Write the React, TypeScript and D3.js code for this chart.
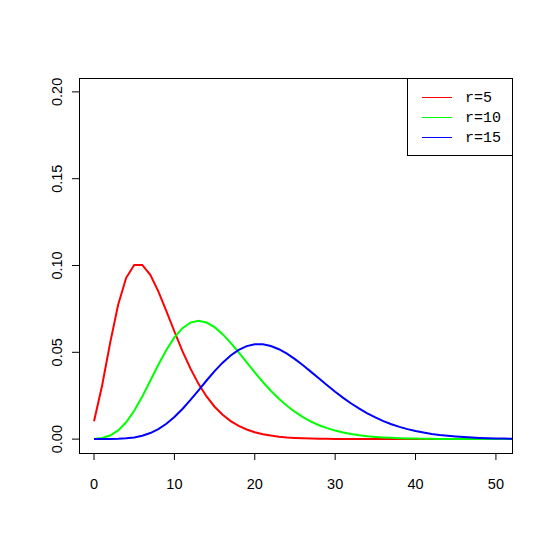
import React, { useEffect, useRef } from 'react';
import * as d3 from 'd3';

// probabilities, x = 0, 1, 2, ...
const r5: number[] = [
  0.01024, 0.03072, 0.05530, 0.07741, 0.09290, 0.10033, 0.10033, 0.09460, 0.08514, 0.07379,
  0.06198, 0.05071, 0.04057, 0.03183, 0.02455, 0.01866, 0.01400, 0.01037, 0.00761, 0.00553,
  0.00398, 0.00284, 0.00202, 0.00142, 0.00099, 0.00069, 0.00048, 0.00033, 0.00023, 0.00016,
  0.00011, 0.00007, 0.00005, 0.00003, 0.00002, 0.00001, 0.00001, 0.00001, 0, 0,
  0, 0, 0, 0, 0, 0, 0, 0, 0, 0,
  0, 0, 0, 0, 0, 0,
];

const r10: number[] = [
  0.00010, 0.00063, 0.00208, 0.00498, 0.00972, 0.01632, 0.02449, 0.03358, 0.04282, 0.05138,
  0.05857, 0.06390, 0.06709, 0.06812, 0.06715, 0.06447, 0.06044, 0.05546, 0.04991, 0.04413,
  0.03840, 0.03291, 0.02783, 0.02323, 0.01916, 0.01564, 0.01263, 0.01011, 0.00801, 0.00630,
  0.00491, 0.00380, 0.00292, 0.00223, 0.00169, 0.00128, 0.00096, 0.00072, 0.00053, 0.00039,
  0.00029, 0.00021, 0.00015, 0.00011, 0.00008, 0.00006, 0.00004, 0.00003, 0.00002, 0.00002,
  0.00001, 0.00001, 0.00001, 0, 0, 0,
];

const r15: number[] = [
  0.00000, 0.00001, 0.00005, 0.00016, 0.00043, 0.00097, 0.00194, 0.00350, 0.00577, 0.00884,
  0.01273, 0.01736, 0.02257, 0.02813, 0.03376, 0.03916, 0.04405, 0.04820, 0.05141, 0.05357,
  0.05465, 0.05465, 0.05365, 0.05179, 0.04920, 0.04605, 0.04251, 0.03873, 0.03486, 0.03101,
  0.02729, 0.02377, 0.02050, 0.01752, 0.01484, 0.01247, 0.01039, 0.00859, 0.00705, 0.00575,
  0.00466, 0.00375, 0.00300, 0.00239, 0.00189, 0.00148, 0.00116, 0.00090, 0.00070, 0.00054,
  0.00042, 0.00032, 0.00024, 0.00018, 0.00014, 0.00010,
];

const seriesNames: string[] = ['r=5', 'r=10', 'r=15'];
const seriesColors: string[] = ['#ff0000', '#00ff00', '#0000ff'];
const xTicks: number[] = [0, 10, 20, 30, 40, 50];
const yTicks: number[] = [0, 0.05, 0.1, 0.15, 0.2];

const W = 553;
const H = 552;
const plot = { left: 79, right: 512, top: 78, bottom: 453 };

const App: React.FC = () => {
  const svgRef = useRef<SVGSVGElement>(null);

  useEffect(() => {
    if (!svgRef.current) return;
    d3.select(svgRef.current).selectAll('*').remove();

    const svg = d3.select(svgRef.current).attr('width', W).attr('height', H);

    const x = d3.scaleLinear().domain([-1.87, 52]).range([plot.left, plot.right]);
    const y = d3.scaleLinear().domain([-0.008, 0.208]).range([plot.bottom, plot.top]);

    svg.append('defs').append('clipPath').attr('id', 'plotclip')
      .append('rect')
      .attr('x', plot.left).attr('y', plot.top)
      .attr('width', plot.right - plot.left).attr('height', plot.bottom - plot.top);

    const line = d3.line<number>()
      .x((_, i) => x(i))
      .y((d) => y(d));

    const g = svg.append('g').attr('clip-path', 'url(#plotclip)');
    [r5, r10, r15].forEach((s, i) => {
      g.append('path')
        .datum(s)
        .attr('d', line)
        .attr('fill', 'none')
        .attr('stroke', seriesColors[i])
        .attr('stroke-width', 2);
    });

    // plot frame
    svg.append('rect')
      .attr('x', plot.left + 0.5).attr('y', plot.top + 0.5)
      .attr('width', plot.right - plot.left).attr('height', plot.bottom - plot.top)
      .attr('fill', 'none').attr('stroke', '#000');

    const font = '"Liberation Sans", Arial, sans-serif';

    // x axis
    const xa = svg.append('g');
    xTicks.forEach((t) => {
      xa.append('line')
        .attr('x1', x(t)).attr('x2', x(t))
        .attr('y1', plot.bottom).attr('y2', plot.bottom + 7)
        .attr('stroke', '#000');
      xa.append('text')
        .attr('x', x(t)).attr('y', 488.5)
        .attr('text-anchor', 'middle')
        .attr('font-family', font).attr('font-size', 14.5)
        .text(String(t));
    });

    // y axis
    const ya = svg.append('g');
    yTicks.forEach((t) => {
      ya.append('line')
        .attr('x1', plot.left - 7).attr('x2', plot.left)
        .attr('y1', y(t)).attr('y2', y(t))
        .attr('stroke', '#000');
      ya.append('text')
        .attr('transform', `translate(${plot.left - 17.5},${y(t)}) rotate(-90)`)
        .attr('text-anchor', 'middle')
        .attr('font-family', font).attr('font-size', 14.5)
        .text(t.toFixed(2));
    });

    // legend
    const lg = svg.append('g');
    lg.append('rect')
      .attr('x', 407.5).attr('y', plot.top + 0.5)
      .attr('width', plot.right - 407).attr('height', 77)
      .attr('fill', '#fff').attr('stroke', '#000');
    seriesNames.forEach((name, i) => {
      const ly = 97 + i * 20;
      lg.append('line')
        .attr('x1', 422).attr('x2', 452)
        .attr('y1', ly + 0.5).attr('y2', ly + 0.5)
        .attr('stroke', seriesColors[i]);
      lg.append('text')
        .attr('x', 465).attr('y', ly + 5)
        .attr('font-family', '"Liberation Mono", "Courier New", monospace')
        .attr('font-size', 15)
        .text(name);
    });
  }, []);

  return (
    <div style={{ position: 'absolute', left: 0, top: 0 }}>
      <svg ref={svgRef} style={{ display: 'block' }}></svg>
    </div>
  );
};

export default App;
